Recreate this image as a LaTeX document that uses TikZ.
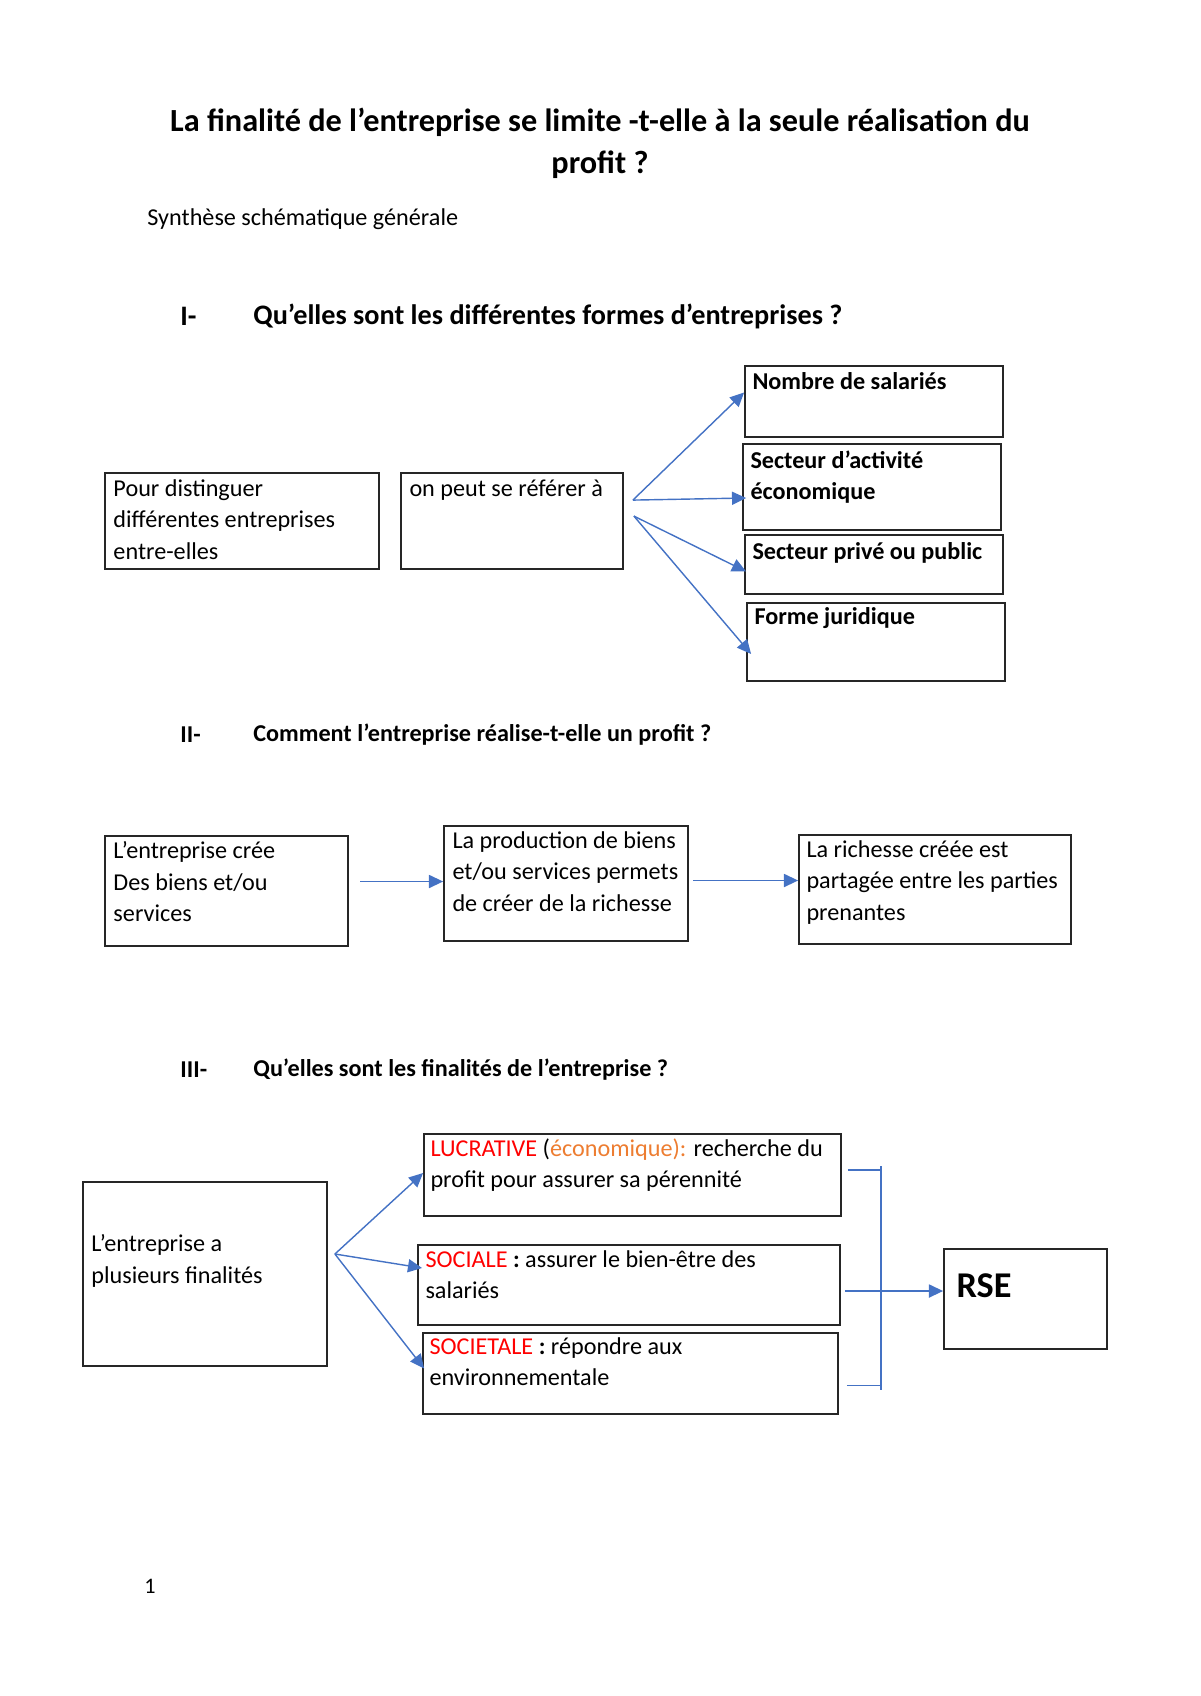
\documentclass[tikz,border=0pt]{standalone}
\usepackage{fontspec}
\setmainfont{Carlito}
\usetikzlibrary{arrows.meta,positioning,fit,calc}
\definecolor{bleu}{HTML}{4472C4}
\definecolor{rouge}{HTML}{FF0000}
\definecolor{orange}{HTML}{ED7D31}
\begin{document}
\begin{tikzpicture}[x=0.4961pt, y=-0.4961pt,
	boite/.style={draw=black!85, line width=0.9pt, inner sep=0pt},
	texte/.style={anchor=north west, inner sep=0pt, align=left, font=\fontsize{12}{15.7}\selectfont},
	gras/.style={texte, font=\fontsize{12}{15.7}\selectfont\bfseries},
	titre/.style={anchor=west, inner sep=0pt, font=\fontsize{12}{15}\selectfont\bfseries},
	fleche/.style={draw=bleu, line width=0.7pt, -{Triangle[length=7pt,width=6.5pt]}},
	lien/.style={draw=bleu, line width=0.7pt}]
	\useasboundingbox (0,0) rectangle (1200,1696);
	% en-tete
	\node[font=\fontsize{16}{21}\selectfont\bfseries, align=center, inner sep=0pt] (titrepage) at (600,143)
		{La finalité de l’entreprise se limite -t-elle à la seule réalisation du\\profit ?};
	\node[anchor=west, inner sep=0pt, font=\fontsize{12}{15}\selectfont] (synthese) at (147,219) {Synthèse schématique générale};
	% partie I
	\node[titre, font=\fontsize{14}{17}\selectfont\bfseries] (numI) at (180,316) {I-};
	\node[titre, font=\fontsize{14}{17}\selectfont\bfseries] (questionI) at (253,316) {Qu’elles sont les différentes formes d’entreprises ?};
	\node[boite, fit={(105,473) (379,569)}] (distinguer) {};
	\node[texte] at ([shift={(9,7)}]distinguer.north west) {Pour distinguer\\différentes entreprises\\entre-elles};
	\node[boite, fit={(401,473) (623,569)}] (referer) {};
	\node[texte] at ([shift={(9,7)}]referer.north west) {on peut se référer à};
	\node[boite, fit={(745,366) (1003,437)}] (salaries) {};
	\node[gras] at ([shift={(8,7)}]salaries.north west) {Nombre de salariés};
	\node[boite, fit={(743,444) (1001,530)}] (secteur) {};
	\node[gras] at ([shift={(8,7)}]secteur.north west) {Secteur d’activité\\économique};
	\node[boite, fit={(745,535) (1003,594)}] (prive) {};
	\node[gras] at ([shift={(8,8)}]prive.north west) {Secteur privé ou public};
	\node[boite, fit={(747,603) (1005,681)}] (forme) {};
	\node[gras] at ([shift={(8,5)}]forme.north west) {Forme juridique};
	\coordinate (depart) at ([shift={(9,28)}]referer.north east);
	\coordinate (depart2) at ([shift={(10,44)}]referer.north east);
	\draw[fleche] (depart) -- ([shift={(0,-9)}]salaries.west);
	\draw[fleche] (depart) -- ([shift={(4,11)}]secteur.west);
	\draw[fleche] (depart2) -- ([shift={(2,7)}]prive.west);
	\draw[fleche] (depart2) -- ([shift={(5,12)}]forme.west);
	% partie II
	\node[titre] (numII) at (180,735) {II-};
	\node[titre] (questionII) at (253,735) {Comment l’entreprise réalise-t-elle un profit ?};
	\node[boite, fit={(105,836) (348,946)}] (cree) {};
	\node[texte] at ([shift={(9,6)}]cree.north west) {L’entreprise crée\\Des biens et/ou\\services};
	\node[boite, fit={(444,826) (688,941)}] (production) {};
	\node[texte] at ([shift={(9,6)}]production.north west) {La production de biens\\et/ou services permets\\de créer de la richesse};
	\node[boite, fit={(799,835) (1071,944)}] (richesse) {};
	\node[texte] at ([shift={(8,6)}]richesse.north west) {La richesse créée est\\partagée entre les parties\\prenantes};
	\draw[fleche] ([shift={(-83,-2)}]production.west) -- ([shift={(0,-2)}]production.west);
	\draw[fleche] ([shift={(-105,-9)}]richesse.west) -- ([shift={(0,-9)}]richesse.west);
	% partie III
	\node[titre] (numIII) at (180,1070) {III-};
	\node[titre] (questionIII) at (253,1070) {Qu’elles sont les finalités de l’entreprise ?};
	\node[boite, fit={(83,1182) (327,1366)}] (finalites) {};
	\node[texte] at ([shift={(9,53)}]finalites.north west) {L’entreprise a\\plusieurs finalités};
	\node[boite, fit={(424,1134) (841,1216)}] (lucrative) {};
	\node[texte] at ([shift={(7,5)}]lucrative.north west) {\textcolor{rouge}{LUCRATIVE} (\textcolor{orange}{économique):} recherche du\\profit pour assurer sa pérennité};
	\node[boite, fit={(418,1245) (840,1325)}] (sociale) {};
	\node[texte] at ([shift={(8,6)}]sociale.north west) {\textcolor{rouge}{SOCIALE} \textbf{:} assurer le bien-être des\\salariés};
	\node[boite, fit={(423,1333) (838,1414)}] (societale) {};
	\node[texte] at ([shift={(7,5)}]societale.north west) {\textcolor{rouge}{SOCIETALE} \textbf{:} répondre aux\\environnementale};
	\node[boite, fit={(944,1249) (1107,1349)}] (rse) {};
	\node[anchor=west, inner sep=0pt, font=\fontsize{18}{22}\selectfont\bfseries] at ([shift={(13,-13)}]rse.west) {RSE};
	\coordinate (origine) at ([shift={(7,-20)}]finalites.east);
	\draw[fleche] (origine) -- ([shift={(0,-2)}]lucrative.west);
	\draw[fleche] (origine) -- ([shift={(5,-17)}]sociale.west);
	\draw[fleche] (origine) -- ([shift={(2,-5)}]societale.west);
	\coordinate (barre) at (881,1166);
	\draw[lien] ([shift={(6,-5)}]lucrative.east) -- ++(34,0);
	\draw[lien] (barre) -- ++(0,224);
	\draw[lien] ([shift={(8,12)}]societale.east) -- ++(35,0);
	\draw[fleche] ([shift={(4,6)}]sociale.east) -- ([shift={(0,-8)}]rse.west);
	\node[inner sep=0pt, font=\fontsize{11}{13}\selectfont] (page) at (150,1586) {1};
\end{tikzpicture}
\end{document}
